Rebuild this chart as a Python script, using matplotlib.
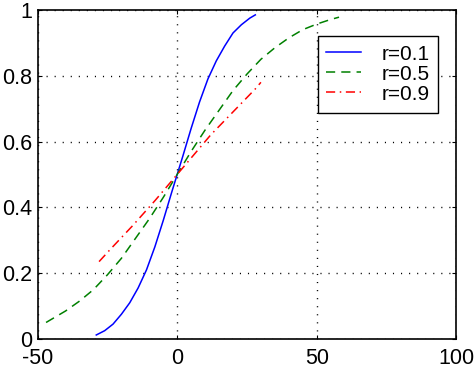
import matplotlib
matplotlib.use("Agg")
import matplotlib.pyplot as plt

plt.rcParams['font.family'] = ['Liberation Sans', 'DejaVu Sans']

# r=0.1
x1 = [-29, -26, -23, -20, -17, -14, -11, -8, -5, -2, 0, 2, 5, 8, 11, 14, 17, 20, 23, 26, 28]
y1 = [0.012, 0.025, 0.045, 0.075, 0.11, 0.155, 0.21, 0.28, 0.36, 0.445, 0.5, 0.555, 0.64, 0.72, 0.79, 0.845, 0.89, 0.93, 0.955, 0.975, 0.985]
# r=0.5
x2 = [-47, -40, -35, -30, -25, -20, -15, -10, -5, 0, 5, 10, 15, 20, 25, 30, 35, 40, 45, 50, 55, 58]
y2 = [0.05, 0.085, 0.115, 0.15, 0.195, 0.245, 0.305, 0.365, 0.43, 0.5, 0.57, 0.635, 0.695, 0.755, 0.805, 0.85, 0.885, 0.915, 0.94, 0.957, 0.971, 0.978]
# r=0.9
x3 = [-28, -24, -20, -16, -12, -8, -4, 0, 4, 8, 12, 16, 20, 24, 28, 30]
y3 = [0.235, 0.272, 0.308, 0.344, 0.382, 0.42, 0.46, 0.5, 0.54, 0.58, 0.62, 0.655, 0.69, 0.725, 0.76, 0.78]

labels = ['r=0.1', 'r=0.5', 'r=0.9']
xticks = [-50, 0, 50, 100]
yticks = [0, 0.2, 0.4, 0.6, 0.8, 1]
ytick_labels = ['0', '0.2', '0.4', '0.6', '0.8', '1']

fig = plt.figure(figsize=(4.74, 3.68), dpi=100)
ax = fig.add_axes([0.0795, 0.079, 0.883, 0.894])

ax.plot(x1, y1, color='#0000ff', lw=1.1, label=labels[0])
ax.plot(x2, y2, color='#008000', lw=1.1, dashes=(6, 4), label=labels[1])
ax.plot(x3, y3, color='#ff0000', lw=1.1, dashes=(6, 3, 1, 3), label=labels[2])

ax.set_xlim(-50, 100)
ax.set_ylim(0, 1)
ax.set_xticks(xticks)
ax.set_xticklabels([str(t) for t in xticks])
ax.set_yticks(yticks)
ax.set_yticklabels(ytick_labels)
ax.tick_params(direction='in', length=3, width=0.8, top=True, right=True, labelsize=15.5)
ax.tick_params(axis='x', pad=6.5)
ax.tick_params(axis='y', pad=4)
ax.grid(True, color='black', linestyle=(0, (0.8, 5)), linewidth=1.0)
for s in ax.spines.values():
    s.set_linewidth(1.2)

leg = ax.legend(loc='upper right', bbox_to_anchor=(0.957, 0.921), borderaxespad=0,
                fontsize=15, frameon=True, fancybox=False, edgecolor='black',
                framealpha=1, handlelength=1.68, borderpad=0.42, labelspacing=0.05,
                handletextpad=0.96)
leg.get_frame().set_linewidth(1.0)

fig.savefig('out.png', dpi=100)
